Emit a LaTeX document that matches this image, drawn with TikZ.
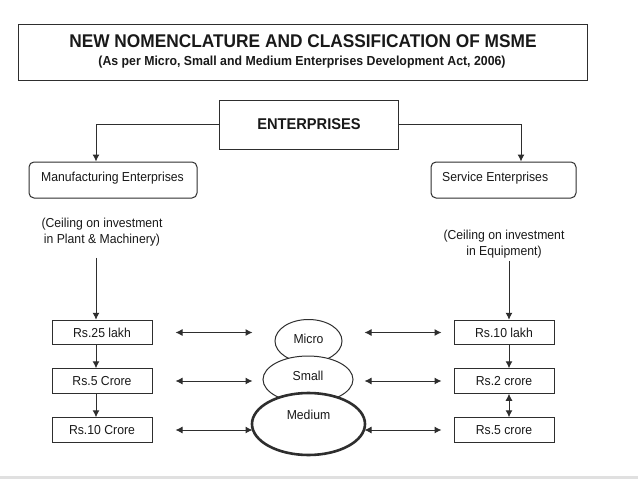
\documentclass[tikz,border=0pt]{standalone}
\usepackage{fontspec}
\setmainfont{Liberation Sans}[FakeStretch=0.94]
\usetikzlibrary{arrows.meta,shapes.geometric}
\begin{document}
\begin{tikzpicture}[x=1pt,y=-1pt,
  ln/.style={draw=black!82, line width=1pt},
  box/.style={ln, rectangle, inner sep=0pt},
  rbox/.style={ln, rectangle, rounded corners=5pt, inner sep=0pt},
  rate/.style={box, minimum width=100pt, minimum height=24.5pt, text=black!90, font=\fontsize{13}{15}\selectfont},
  txt/.style={inner sep=0pt, text=black!90, font=\fontsize{13}{16}\selectfont, align=center},
  ell/.style={ln, ellipse, fill=white, inner sep=0pt},
  arr/.style={ln, -{Latex[length=7pt,width=7pt]}},
  darr/.style={ln, {Latex[length=7pt,width=7pt]}-{Latex[length=7pt,width=7pt]}},
]
\useasboundingbox (0,0) rectangle (638,479);
\fill[white] (0,0) rectangle (638,479);
\fill[black!12] (0,476) rectangle (638,479);

% title
\node[box, minimum width=569pt, minimum height=56pt] (titlebox) at (302.5,52) {};
\node[txt, anchor=base, font=\bfseries\fontsize{18.4}{20}\selectfont] (title) at (303,47.6) {NEW NOMENCLATURE AND CLASSIFICATION OF MSME};
\node[txt, anchor=base, font=\bfseries\fontsize{13.1}{15}\selectfont] (subtitle) at (302,65.7) {(As per Micro, Small and Medium Enterprises Development Act, 2006)};

% enterprises
\node[box, minimum width=179pt, minimum height=49pt] (ent) at (308.5,124.5) {};
\node[txt, anchor=base, font=\bfseries\fontsize{15.6}{17}\selectfont] (enttext) at (309,129.6) {ENTERPRISES};

% manufacturing / service
\node[rbox, minimum width=168pt, minimum height=36pt] (manu) at (113,180) {};
\node[txt, anchor=base] (manutext) at (112.5,181) {Manufacturing Enterprises};
\node[rbox, minimum width=145pt, minimum height=36pt] (serv) at (503.5,180) {};
\node[txt, anchor=base west] (servtext) at (442,181) {Service Enterprises};

\draw[arr] (ent.west) -| ([xshift=-17pt]manu.north);
\draw[arr] (ent.east) -| ([xshift=17.5pt]serv.north);

% ceilings
\node[txt] (ceilL) at (102,232.5) {(Ceiling on investment\\in Plant \& Machinery)};
\node[txt] (ceilR) at (504,244.5) {(Ceiling on investment\\in Equipment)};

% rate boxes
\node[rate] (m1) at (102,332.5) {Rs.25 lakh};
\node[rate] (m2) at (102,381) {Rs.5 Crore};
\node[rate] (m3) at (102,430) {Rs.10 Crore};
\node[rate] (s1) at (504,332.5) {Rs.10 lakh};
\node[rate] (s2) at (504,381) {Rs.2 crore};
\node[rate] (s3) at (504,430) {Rs.5 crore};

\draw[arr, shorten <=11pt] ([xshift=-6pt]ceilL.south) -- ([xshift=-6pt]m1.north);
\draw[arr] ([xshift=-6pt]m1.south) -- ([xshift=-6pt]m2.north);
\draw[arr] ([xshift=-6pt]m2.south) -- ([xshift=-6pt]m3.north);
\draw[arr, shorten <=2pt] ([xshift=5pt]ceilR.south) -- ([xshift=5pt]s1.north);
\draw[arr] ([xshift=5pt]s1.south) -- ([xshift=5pt]s2.north);
\draw[darr] ([xshift=5pt]s2.south) -- ([xshift=5pt]s3.north);

% ellipses
\node[ell, minimum width=67pt, minimum height=43pt] (micro) at (308.5,341) {};
\node[txt] (microtext) at (308.5,339) {Micro};
\node[ell, minimum width=90pt, minimum height=47pt] (small) at (308,379.5) {};
\node[txt] (smalltext) at (308,376) {Small};
\node[ell, line width=2.6pt, minimum width=113pt, minimum height=62pt] (medium) at (308.5,424) {};
\node[txt] (mediumtext) at (308.5,415) {Medium};

% horizontal double arrows
\foreach \a in {1,2,3}{
  \draw[darr] ([xshift=23pt]m\a.east) -- ([xshift=100pt]m\a.east);
  \draw[darr] ([xshift=-89pt]s\a.west) -- ([xshift=-12pt]s\a.west);
}
\end{tikzpicture}
\end{document}
